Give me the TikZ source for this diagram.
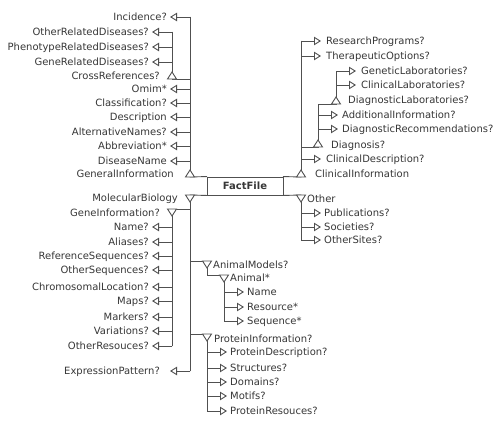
\documentclass[tikz,border=0pt]{standalone}
\usepackage{fontspec}
\setmainfont{DejaVu Sans}
\usetikzlibrary{arrows.meta}
\definecolor{tc}{RGB}{55,55,55}
\definecolor{lc}{RGB}{80,80,80}
\tikzset{
  ln/.style={draw=lc, line width=0.9pt, line cap=rect},
  kid/.style={draw=lc, line width=0.9pt, -{Triangle[open,length=7pt,width=8.5pt]}},
  lbl/.style={text=tc, font=\fontsize{10}{12}\selectfont, inner sep=0pt, text height=7.3pt, text depth=0pt},
  boxst/.style={draw=lc, line width=0.9pt, fill=white, minimum width=76pt, minimum height=18pt, inner sep=0pt, text=tc, font=\fontsize{10}{12}\selectfont\bfseries},
  uptri/.pic={\draw[draw=lc, line width=0.9pt, fill=white, line join=miter] (-4.5,0) -- (4.5,0) -- (0,-7) -- cycle;},
  dntri/.pic={\draw[draw=lc, line width=0.9pt, fill=white, line join=miter] (-4.5,0) -- (4.5,0) -- (0,7) -- cycle;},
}
% left child: [gap]{name}{trunk x}{y}{text}
\newcommand\lkid[5][3]{\node[lbl,anchor=east] (#2) at (#3-20-#1,#4) {#5};
  \draw[kid] (#3,#4) -- ([xshift=#1pt]#2.east);}
% right child: [gap]{name}{trunk x}{y}{text}
\newcommand\rkid[5][4]{\node[lbl,anchor=west] (#2) at (#3+20+#1,#4) {#5};
  \draw[kid] (#3,#4) -- ([xshift=-#1pt]#2.west);}
\begin{document}
\begin{tikzpicture}[x=1pt,y=-1pt]
\fill[white] (0,0) rectangle (500,428);
\useasboundingbox (0,0) rectangle (500,428);

% central box
\node[boxst] (ff) at (245,186) {FactFile};

% ---------- General information (top left) ----------
\coordinate (giB) at (190,177);
\draw[ln] (giB) -- (ff.north west);
\draw[ln] (giB) -- (190,17);
\pic at (giB) {uptri};
\node[lbl,anchor=east] (gi) at (174,174) {GeneralInformation};
\lkid{inc}{190}{17}{Incidence?}
\lkid{omim}{190}{89}{Omim*}
\lkid{cls}{190}{103}{Classification?}
\lkid{desc}{190}{117}{Description}
\lkid{alt}{190}{132}{AlternativeNames?}
\lkid{abb}{190}{146}{Abbreviation*}
\lkid{dn}{190}{161}{DiseaseName}
% cross references
\coordinate (crB) at (172,79);
\draw[ln] (190,79) -- (crB) -- (172,32);
\pic at (crB) {uptri};
\node[lbl,anchor=east] (cr) at (160,76) {CrossReferences?};
\lkid{ord}{172}{32}{OtherRelatedDiseases?}
\lkid{prd}{172}{47}{PhenotypeRelatedDiseases?}
\lkid{grd}{172}{62}{GeneRelatedDiseases?}

% ---------- Molecular biology (bottom left) ----------
\coordinate (mbB) at (190,195);
\draw[ln] (mbB) -- (ff.south west);
\draw[ln] (mbB) -- (190,371);
\pic at (mbB) {dntri};
\node[lbl,anchor=east] (mb) at (178,198) {MolecularBiology};
% gene information
\coordinate (gnB) at (172,209);
\draw[ln] (190,209) -- (gnB) -- (172,346);
\pic at (gnB) {dntri};
\node[lbl,anchor=east] (gn) at (160,213) {GeneInformation?};
\lkid{gname}{172}{227}{Name?}
\lkid{ali}{172}{242}{Aliases?}
\lkid{refs}{172}{256}{ReferenceSequences?}
\lkid{oths}{172}{270}{OtherSequences?}
\lkid{chrl}{172}{287}{ChromosomalLocation?}
\lkid{maps}{172}{301}{Maps?}
\lkid{mark}{172}{317}{Markers?}
\lkid{vari}{172}{331}{Variations?}
\lkid{othr}{172}{346}{OtherResouces?}
\lkid[10]{expr}{190}{371}{ExpressionPattern?}
% animal models
\coordinate (amB) at (207,261);
\coordinate (anB) at (224,275);
\draw[ln] (190,261) -- (amB) -- (207,275) -- (anB) -- (224,321);
\pic at (amB) {dntri};
\pic at (anB) {dntri};
\node[lbl,anchor=west] (am) at (213,265) {AnimalModels?};
\node[lbl,anchor=west] (an) at (230,278) {Animal*};
\rkid[3]{aname}{224}{292}{Name}
\rkid[3]{ares}{224}{307}{Resource*}
\rkid[3]{aseq}{224}{321}{Sequence*}
% protein information
\coordinate (piB) at (207,334);
\draw[ln] (190,334) -- (piB) -- (207,411);
\pic at (piB) {dntri};
\node[lbl,anchor=west] (pi) at (214,339) {ProteinInformation?};
\rkid[3]{pdesc}{207}{352}{ProteinDescription?}
\rkid[3]{pstr}{207}{368}{Structures?}
\rkid[3]{pdom}{207}{382}{Domains?}
\rkid[3]{pmot}{207}{396}{Motifs?}
\rkid[3]{pres}{207}{411}{ProteinResouces?}

% ---------- Clinical information (top right) ----------
\coordinate (ciB) at (301,177);
\draw[ln] (ff.north east) -- (ciB);
\draw[ln] (ciB) -- (301,41);
\pic at (ciB) {uptri};
\node[lbl,anchor=west] (ci) at (315,174) {ClinicalInformation};
\rkid[5]{rp}{301}{41}{ResearchPrograms?}
\rkid[5]{to}{301}{56}{TherapeuticOptions?}
\rkid[5]{cd}{301}{159}{ClinicalDescription?}
% diagnosis
\coordinate (dgB) at (318,147);
\coordinate (dlB) at (336,104);
\draw[ln] (301,147) -- (dgB) -- (318,104) -- (dlB) -- (336,71);
\pic at (dgB) {uptri};
\pic at (dlB) {uptri};
\node[lbl,anchor=west] (dg) at (331,145) {Diagnosis?};
\node[lbl,anchor=west] (dl) at (348,100) {DiagnosticLaboratories?};
\rkid[4]{ai}{318}{115}{AdditionalInformation?}
\rkid[4]{dr}{318}{129}{DiagnosticRecommendations?}
\rkid[5]{gl}{336}{71}{GeneticLaboratories?}
\rkid[5]{cl}{336}{85}{ClinicalLaboratories?}

% ---------- Other (bottom right) ----------
\coordinate (otB) at (301,195);
\draw[ln] (ff.south east) -- (otB);
\draw[ln] (otB) -- (301,240);
\pic at (otB) {dntri};
\node[lbl,anchor=west] (ot) at (307,199) {Other};
\rkid[3]{pub}{301}{213}{Publications?}
\rkid[3]{soc}{301}{227}{Societies?}
\rkid[3]{osi}{301}{240}{OtherSites?}
\end{tikzpicture}
\end{document}
